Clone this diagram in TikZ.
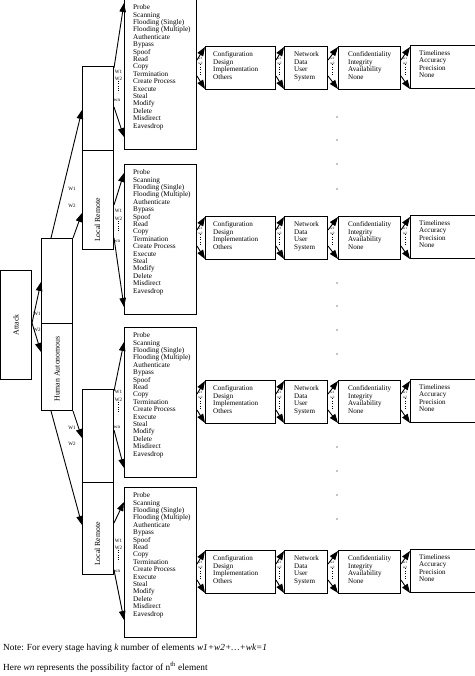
\documentclass[tikz,border=0pt]{standalone}
\usepackage{fontspec}
\setmainfont{Liberation Serif}
\usetikzlibrary{arrows.meta,calc}
\newcommand{\atklist}{Probe\\Scanning\\Flooding (Single)\\Flooding (Multiple)\\Authenticate\\Bypass\\Spoof\\Read\\Copy\\Termination\\Create Process\\Execute\\Steal\\Modify\\Delete\\Misdirect\\Eavesdrop}
\begin{document}
\begin{tikzpicture}[x=1pt,y=-1pt,
  bx/.style={draw, line width=1pt, inner sep=0pt, anchor=north west},
  arr/.style={line width=0.9pt, -{Triangle[length=9pt,width=6.5pt]}},
  lst/.style={font=\fontsize{7.2}{7.4}\selectfont, align=left, inner sep=0pt, anchor=north west},
  sub/.style={font=\fontsize{7.1}{7.6}\selectfont, align=left, inner sep=0pt, anchor=north west},
  big/.style={font=\fontsize{7.8}{8}\selectfont, rotate=90, inner sep=0pt},
  wl/.style={font=\fontsize{5}{5}\selectfont, inner sep=0pt},
  tw/.style={font=\fontsize{3.4}{3.4}\selectfont, inner sep=0pt},
  dotln/.style={line width=0.4pt, dotted},
  note/.style={font=\fontsize{9.3}{10}\selectfont, inner sep=0pt, anchor=base west}
]
\useasboundingbox (0,0) rectangle (474,676);
\fill[white] (0,0) rectangle (474,676);

% level 0
\node[bx, minimum width=31pt, minimum height=109pt] (attack) at (0,270) {};
\node[big] (attacklbl) at (attack.center) {Attack};

% level 1
\node[bx, minimum width=31pt, minimum height=85pt] (hatop) at (41,238) {};
\node[bx, minimum width=31pt, minimum height=87pt] (habot) at (41,323) {};
\node[big] (halbl) at ($(habot.center)+(0,2)$) {Human Autonomous};

% level 2
\node[bx, minimum width=31pt, minimum height=84pt] (lr1top) at (82,66) {};
\node[bx, minimum width=31pt, minimum height=99pt] (lr1bot) at (82,150) {};
\node[big] (lr1lbl) at (97.5,220) {Local Remote};
\node[bx, minimum width=31pt, minimum height=93pt] (lr2top) at (82,389) {};
\node[bx, minimum width=31pt, minimum height=92pt] (lr2bot) at (82,482) {};
\node[big] (lr2lbl) at (97.5,544) {Local Remote};

% arrows attack -> HA
\draw[arr] ($(attack.east)+(0,-2)$) -- ($(hatop.south west)+(0,-42)$);
\draw[arr] ($(attack.east)+(0,-2)$) -- ($(habot.north west)+(0,29)$);
\node[wl] (aw1) at (37,314) {W1};
\node[wl] (aw2) at (37,330) {W2};

% arrows HA -> LR
\draw[arr] ($(hatop.north west)+(10,0)$) -- ($(lr1top.north west)+(0,44)$);
\draw[arr] (hatop.north east) -- ($(lr1bot.north west)+(0,63)$);
\draw[arr] (habot.south east) -- ($(lr2top.north west)+(0,49)$);
\draw[arr] ($(habot.south west)+(10,0)$) -- ($(lr2bot.north west)+(0,43)$);
\node[wl] (hw1) at (72,189) {W1};
\node[wl] (hw2) at (72,206) {W2};
\node[wl] (hw3) at (72,428) {W1};
\node[wl] (hw4) at (72,444) {W2};

% attack-type boxes
\foreach \i/\t in {1/-1, 2/164, 3/327, 4/487} {
  \node[bx, minimum width=72pt, minimum height=150pt] (ab\i) at (124,\t) {};
  \node[lst] (abt\i) at (133,\t+5.5) {\atklist};
}

% LR -> attack-type fan arrows
\draw[arr] ($(lr1top.north east)+(0,2)$) -- ($(ab1.north west)+(0,4)$);
\draw[arr] ($(lr1top.north east)+(0,41)$) -- ($(ab1.north west)+(0,138)$);
\draw[arr] ($(lr1bot.north east)+(0,55)$) -- ($(ab2.north west)+(0,9)$);
\draw[arr] ($(lr1bot.north east)+(0,88)$) -- ($(ab2.north west)+(0,143)$);
\draw[arr] ($(lr2top.north east)+(0,2)$) -- ($(ab3.north west)+(0,15)$);
\draw[arr] ($(lr2top.north east)+(0,41)$) -- ($(ab3.north west)+(0,141)$);
\draw[arr] ($(lr2bot.north east)+(0,41)$) -- ($(ab4.north west)+(0,15)$);
\draw[arr] ($(lr2bot.north east)+(0,88)$) -- ($(ab4.north west)+(0,133)$);

\foreach \k/\a/\b/\n in {1/72/79/100, 2/211/219/241, 3/392/400/427, 4/541/548/571} {
  \node[wl] (fw1\k) at (118.5,\a) {W1};
  \node[wl] (fw2\k) at (118.5,\b) {W2};
  \draw[dotln] (fw2\k.south) -- ++(0,12);
  \node[wl] (fwn\k) at (117,\n) {wn};
}

% right-hand rows
\foreach \r/\T in {1/46, 2/216, 3/380, 4/550} {
  \node[bx, minimum width=70pt, minimum height=43pt] (conf\r) at (205,\T) {};
  \node[bx, minimum width=43pt, minimum height=43pt] (net\r) at (284,\T) {};
  \node[bx, minimum width=62pt, minimum height=43pt] (cia\r) at (338,\T) {};
  \node[bx, minimum width=66pt, minimum height=43pt] (tim\r) at (410,\T-1) {};
  \node[sub] (conft\r) at (213,\T+5.5) {Configuration\\Design\\Implementation\\Others};
  \node[sub] (nett\r) at (294,\T+5.5) {Network\\Data\\User\\System};
  \node[sub] (ciat\r) at (348,\T+5.5) {Confidentiality\\Integrity\\Availability\\None};
  \node[sub] (timt\r) at (419,\T+4) {Timeliness\\Accuracy\\Precision\\None};
  % gap arrows
  \draw[arr] ($(ab\r.east |- conf\r.north)+(0,14)$) -- ($(conf\r.north west)+(0,1)$);
  \draw[arr] ($(ab\r.east |- conf\r.south)+(0,-14)$) -- ($(conf\r.south west)+(0,-1)$);
  \draw[arr] ($(conf\r.north east)+(0,14)$) -- ($(net\r.north west)+(0,1)$);
  \draw[arr] ($(conf\r.south east)+(0,-14)$) -- ($(net\r.south west)+(0,-1)$);
  \draw[arr] ($(net\r.north east)+(0,14)$) -- ($(cia\r.north west)+(0,1)$);
  \draw[arr] ($(net\r.south east)+(0,-14)$) -- ($(cia\r.south west)+(0,-1)$);
  \draw[arr] ($(cia\r.north east)+(0,14)$) -- ($(tim\r.north west)+(0,2)$);
  \draw[arr] ($(cia\r.south east)+(0,-14)$) -- ($(tim\r.south west)+(0,0)$);
  \foreach \g/\gx in {a/200.5, b/279.5, c/332.5, d/405} {
    \node[tw] (g\g1\r) at (\gx,\T+12) {w1};
    \node[tw] (g\g2\r) at (\gx,\T+17) {w2};
    \draw[dotln] (g\g2\r.south) -- ++(0,10);
  }
}

% vertical dots between rows
\foreach \y in {117,140,164,189, 283,306,330,354, 447,471,495,519} {
  \fill (337,\y) circle (0.7pt);
}

% notes
\node[note] (note1) at (3,650) {Note: For every stage having \textit{k} number of elements \textit{w1+w2+…+wk=1}};
\node[note] (note2) at (3,670) {Here \textit{wn} represents the possibility factor of n\textsuperscript{th} element};
\end{tikzpicture}
\end{document}
